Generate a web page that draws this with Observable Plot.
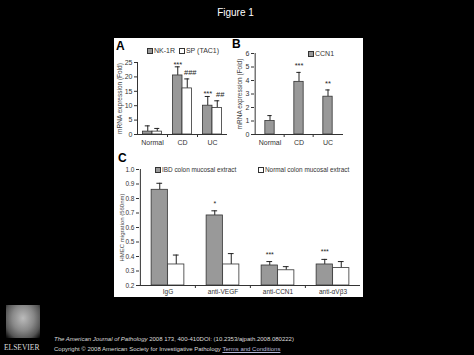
<!DOCTYPE html>
<html><head><meta charset="utf-8">
<script src="https://cdn.jsdelivr.net/npm/d3@7"></script>
<script src="https://cdn.jsdelivr.net/npm/@observablehq/plot@0.6"></script>
<style>
html,body{margin:0;padding:0;background:#000;}
#page{position:relative;width:474px;height:355px;overflow:hidden;background:#000;font-family:"Liberation Sans",Arial,sans-serif;}
#title{position:absolute;left:0;width:471px;top:7px;text-align:center;color:#fff;font-size:10px;}
#panel{position:absolute;left:114px;top:38px;width:249px;height:259px;background:#fff;overflow:hidden;}
.pl{position:absolute;}
.lbl{position:absolute;font-weight:bold;font-size:12px;color:#000;line-height:1;}
.leg{position:absolute;font-size:7px;color:#333;white-space:nowrap;line-height:1;display:flex;align-items:center;}
.sw{display:inline-block;width:4px;height:4px;border:1px solid #333;margin-right:1px;}
#logo{position:absolute;left:6px;top:305px;width:34px;height:33px;background:radial-gradient(ellipse at 50% 40%,#bbb 0%,#888 45%,#555 75%,#000 100%);}
#els{position:absolute;left:4px;top:343px;font-family:"Liberation Serif","DejaVu Serif",serif;font-size:7.5px;color:#ddd;}
.foot{position:absolute;left:54px;font-size:6px;color:#ddd;white-space:nowrap;}
.foot u{color:#b8b8d8;}
</style></head>
<body><div id="page">
<div id="title">Figure 1</div>
<div id="panel">
  <div class="lbl" style="left:2px;top:2px">A</div>
  <div class="lbl" style="left:118px;top:0px">B</div>
  <div class="lbl" style="left:4px;top:114px">C</div>
  <div class="leg" style="left:33px;top:9px"><span class="sw" style="background:#999"></span>NK-1R&nbsp;&nbsp;<span class="sw" style="background:#fff"></span>SP (TAC1)</div>
  <div class="leg" style="left:194px;top:12px"><span class="sw" style="background:#999"></span>CCN1</div>
  <div class="leg" style="left:41px;top:129px;font-size:6.4px"><span class="sw" style="background:#999"></span>IBD colon mucosal extract</div>
  <div class="leg" style="left:144px;top:129px;font-size:6.4px"><span class="sw" style="background:#fff"></span>Normal colon mucosal extract</div>
  <div class="pl" id="chartA"></div>
  <div class="pl" id="chartB"></div>
  <div class="pl" id="chartC"></div>
</div>
<div id="logo"></div>
<div id="els">ELSEVIER</div>
<div class="foot" style="top:336px"><i>The American Journal of Pathology</i> 2008 173, 400-410DOI: (10.2353/ajpath.2008.080222)</div>
<div class="foot" style="top:346px">Copyright © 2008 American Society for Investigative Pathology <u>Terms and Conditions</u></div>
</div>
<script>
// ---- Panel A ----
const catsA = ["Normal", "CD", "UC"];
const nk1r = [1.0, 20.5, 10.0];
const nk1rErr = [3.0, 23.5, 13.2];
const nk1rSig = ["", "***", "***"];
const spTac1 = [1.0, 16.0, 9.2];
const spTac1Err = [2.1, 19.3, 11.7];
const spTac1Sig = ["", "###", "##"];
const ticksA = [0, 5, 10, 15, 20, 25];
const titleA = "mRNA expression (Fold)";

// ---- Panel B ----
const catsB = ["Normal", "CD", "UC"];
const ccn1 = [1.0, 3.9, 2.8];
const ccn1Err = [1.4, 4.6, 3.3];
const ccn1Sig = ["", "***", "**"];
const ticksB = [0, 1, 2, 3, 4, 5, 6];
const titleB = "mRNA expression (Fold)";

// ---- Panel C ----
const catsC = ["IgG", "anti-VEGF", "anti-CCN1", "anti-αVβ3"];
const ibd = [0.86, 0.683, 0.338, 0.345];
const ibdErr = [0.905, 0.715, 0.365, 0.38];
const ibdSig = ["", "*", "***", "***"];
const normalExt = [0.345, 0.345, 0.305, 0.32];
const normalExtErr = [0.41, 0.42, 0.33, 0.365];
const ticksC = [0.2, 0.3, 0.4, 0.5, 0.6, 0.7, 0.8, 0.9, 1.0];
const titleC = "HMEC migration (560nm)";

function chart(o) {
  const n = o.cats.length;
  const innerW = o.frameR - o.frameL;
  const innerH = o.frameB - o.frameT;
  const bw = innerW / n;
  const marginLeft = o.frameL - o.left;
  const marginTop = o.frameT - o.top;
  const width = o.frameR - o.left + o.rightPad;
  const height = o.frameB - o.top + o.bottomPad;
  const marks = [];
  o.series.forEach((s, i) => {
    const off = (i - (o.series.length - 1) / 2) * o.barW;
    const il = bw / 2 + off - o.barW / 2;
    const ir = bw - il - o.barW;
    const rows = o.cats.map((c, j) => ({cat: c, v: s.values[j], e: s.errs[j], sig: s.sig ? s.sig[j] : ""}));
    marks.push(Plot.ruleX(rows, {x: "cat", y1: "v", y2: "e", dx: off, stroke: "#222", strokeWidth: 1}));
    marks.push(Plot.tickY(rows, {x: "cat", y: "e", dx: off, insetLeft: bw / 2 - o.capW / 2, insetRight: bw / 2 - o.capW / 2, stroke: "#222", strokeWidth: 1}));
    marks.push(Plot.barY(rows, {x: "cat", y1: o.domain[0], y2: "v", insetLeft: il, insetRight: ir, fill: s.fill, stroke: "#333", strokeWidth: 0.8}));
    marks.push(Plot.text(rows, {x: "cat", y: "e", text: "sig", dx: off + s.sigDx, dy: s.sigDy, lineAnchor: "bottom", fontSize: o.fontSize + 0.5, fill: "#222"}));
  });
  marks.push(Plot.ruleY([o.domain[0]], {stroke: "#333", strokeWidth: 1}));
  marks.push(Plot.ruleX([o.cats[0]], {dx: -bw / 2, stroke: "#333", strokeWidth: 1}));
  marks.push(Plot.ruleX(o.cats.slice(1), {dx: -bw / 2, insetTop: innerH, insetBottom: -3, stroke: "#333", strokeWidth: 1}));
  marks.push(Plot.axisY({ticks: o.ticks, tickFormat: o.tickFormat, tickSize: 3, tickPadding: 2, fontSize: o.fontSize, color: "#333", label: null}));
  marks.push(Plot.axisX({tickSize: 0, tickPadding: o.labelPad, fontSize: o.fontSize, color: "#333", label: null}));
  marks.push(Plot.text([o.yTitle], {frameAnchor: "left", textAnchor: "middle", rotate: -90, dx: -o.titleDx, fontSize: o.fontSize - 0.5, fill: "#444"}));
  const svg = Plot.plot({
    width, height, marginLeft, marginTop,
    marginRight: o.rightPad, marginBottom: o.bottomPad,
    style: {background: "transparent", overflow: "visible", fontFamily: "Liberation Sans, Arial, sans-serif"},
    x: {domain: o.cats, padding: 0},
    y: {domain: o.domain},
    marks
  });
  const el = document.getElementById(o.id);
  el.style.left = o.left + "px";
  el.style.top = o.top + "px";
  el.appendChild(svg);
}

chart({
  id: "chartA", cats: catsA, domain: [0, 25], ticks: ticksA, tickFormat: d3.format("d"),
  left: 0, top: 14, frameL: 23, frameR: 113, frameT: 24, frameB: 96, rightPad: 4, bottomPad: 20,
  barW: 9.5, capW: 5, fontSize: 7, labelPad: 6, titleDx: 18, yTitle: titleA,
  series: [
    {values: nk1r, errs: nk1rErr, sig: nk1rSig, fill: "#999", sigDx: 0, sigDy: 0},
    {values: spTac1, errs: spTac1Err, sig: spTac1Sig, fill: "#fff", sigDx: 3, sigDy: -4}
  ]
});

chart({
  id: "chartB", cats: catsB, domain: [0, 6], ticks: ticksB, tickFormat: d3.format("d"),
  left: 118, top: 5, frameL: 140, frameR: 229, frameT: 15, frameB: 96, rightPad: 4, bottomPad: 20,
  barW: 10, capW: 5, fontSize: 7, labelPad: 6, titleDx: 15, yTitle: titleB,
  series: [
    {values: ccn1, errs: ccn1Err, sig: ccn1Sig, fill: "#999", sigDx: 0, sigDy: -4}
  ]
});

chart({
  id: "chartC", cats: catsC, domain: [0.2, 1.0], ticks: ticksC, tickFormat: d3.format(".1f"),
  left: 0, top: 120, frameL: 25, frameR: 246, frameT: 131, frameB: 247, rightPad: 3, bottomPad: 16,
  barW: 16.5, capW: 6, fontSize: 6.5, labelPad: 4, titleDx: 17, yTitle: titleC,
  series: [
    {values: ibd, errs: ibdErr, sig: ibdSig, fill: "#999", sigDx: 0, sigDy: -5},
    {values: normalExt, errs: normalExtErr, sig: null, fill: "#fff", sigDx: 0, sigDy: 0}
  ]
});
</script>
</body></html>
